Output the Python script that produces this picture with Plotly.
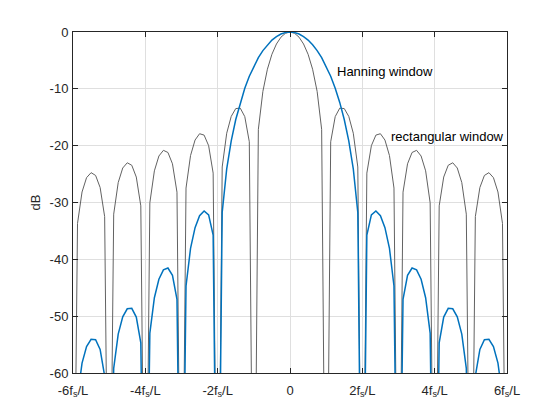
import plotly.graph_objects as go

# frequency axis in units of fs/L
freq = [-6.0, -5.875, -5.75, -5.625, -5.5, -5.375, -5.25, -5.125,
        -5.0, -4.875, -4.75, -4.625, -4.5, -4.375, -4.25, -4.125,
        -4.0, -3.875, -3.75, -3.625, -3.5, -3.375, -3.25, -3.125,
        -3.0, -2.875, -2.75, -2.625, -2.5, -2.375, -2.25, -2.125,
        -2.0, -1.875, -1.75, -1.625, -1.5, -1.375, -1.25, -1.125,
        -1.0, -0.875, -0.75, -0.625, -0.5, -0.375, -0.25, -0.125,
        0.0, 0.125, 0.25, 0.375, 0.5, 0.625, 0.75, 0.875,
        1.0, 1.125, 1.25, 1.375, 1.5, 1.625, 1.75, 1.875,
        2.0, 2.125, 2.25, 2.375, 2.5, 2.625, 2.75, 2.875,
        3.0, 3.125, 3.25, 3.375, 3.5, 3.625, 3.75, 3.875,
        4.0, 4.125, 4.25, 4.375, 4.5, 4.625, 4.75, 4.875,
        5.0, 5.125, 5.25, 5.375, 5.5, 5.625, 5.75, 5.875, 6.0]

# rectangular window response (dB)
rect_db = [-110, -33.67, -28.15, -25.63, -24.75, -25.24, -27.36, -32.48,
           -110, -32.05, -26.49, -23.93, -23.01, -23.45, -25.52, -30.59,
           -110, -30.05, -24.43, -21.82, -20.82, -21.20, -23.19, -28.18,
           -110, -27.46, -21.74, -19.01, -17.90, -18.14, -20.00, -24.83,
           -110, -23.75, -17.81, -14.85, -13.47, -13.40, -14.89, -19.31,
           -110, -17.13, -10.45, -6.55, -3.92, -2.11, -0.91, -0.22,
           0.0, -0.22, -0.91, -2.11, -3.92, -6.55, -10.45, -17.13,
           -110, -19.31, -14.89, -13.40, -13.47, -14.85, -17.81, -23.75,
           -110, -24.83, -20.00, -18.14, -17.90, -19.01, -21.74, -27.46,
           -110, -28.18, -23.19, -21.20, -20.82, -21.82, -24.43, -30.05,
           -110, -30.59, -25.52, -23.45, -23.01, -23.93, -26.49, -32.05,
           -110, -32.48, -27.36, -25.24, -24.75, -25.63, -28.15, -33.67, -110]

# Hanning window response (dB)
hann_db = [-110, -64.17, -58.27, -55.36, -54.07, -54.15, -55.84, -60.53,
           -110, -59.19, -53.16, -50.12, -48.70, -48.62, -50.16, -54.69,
           -110, -52.98, -46.75, -43.50, -41.85, -41.53, -42.80, -47.04,
           -110, -44.68, -38.08, -34.42, -32.31, -31.48, -32.17, -35.75,
           -110, -31.76, -24.10, -19.15, -15.40, -12.39, -9.89, -7.79,
           -6.02, -4.52, -3.27, -2.25, -1.42, -0.80, -0.35, -0.09,
           0.0, -0.09, -0.35, -0.80, -1.42, -2.25, -3.27, -4.52,
           -6.02, -7.79, -9.89, -12.39, -15.40, -19.15, -24.10, -31.76,
           -110, -35.75, -32.17, -31.48, -32.31, -34.42, -38.08, -44.68,
           -110, -47.04, -42.80, -41.53, -41.85, -43.50, -46.75, -52.98,
           -110, -54.69, -50.16, -48.62, -48.70, -50.12, -53.16, -59.19,
           -110, -60.53, -55.84, -54.15, -54.07, -55.36, -58.27, -64.17, -110]

x_tick_vals = [-6, -4, -2, 0, 2, 4, 6]
x_tick_text = ["-6f<sub>s</sub>/L", "-4f<sub>s</sub>/L", "-2f<sub>s</sub>/L", "0",
               "2f<sub>s</sub>/L", "4f<sub>s</sub>/L", "6f<sub>s</sub>/L"]
y_tick_vals = [-60, -50, -40, -30, -20, -10, 0]
y_tick_text = ["-60", "-50", "-40", "-30", "-20", "-10", "0"]

labels = ["Hanning window", "rectangular window"]
label_x = [1.25, 2.73]
label_y = [-7.0, -18.3]

font_family = "Liberation Sans, Arial, sans-serif"

fig = go.Figure()
fig.add_trace(go.Scatter(x=freq, y=rect_db, mode="lines",
                         line=dict(color="#626262", width=1), showlegend=False))
fig.add_trace(go.Scatter(x=freq, y=hann_db, mode="lines",
                         line=dict(color="#0072BD", width=1.5), showlegend=False))

for t, xx, yy in zip(labels, label_x, label_y):
    fig.add_annotation(x=xx, y=yy, text=t, showarrow=False, xanchor="left",
                       yanchor="middle", font=dict(size=13, color="black", family=font_family))

axis_common = dict(showgrid=True, gridcolor="#dfdfdf", gridwidth=1,
                   showline=True, linecolor="#262626", linewidth=1,
                   mirror="ticks", ticks="inside", ticklen=5, tickcolor="#262626",
                   zeroline=False, tickfont=dict(size=13, color="#262626", family=font_family))

fig.update_xaxes(range=[-6, 6], tickmode="array", tickvals=x_tick_vals,
                 ticktext=x_tick_text, ticklabelstandoff=5, **axis_common)
fig.update_yaxes(range=[-60, 0], tickmode="array", tickvals=y_tick_vals,
                 ticktext=y_tick_text, ticklabelstandoff=1,
                 title=dict(text="dB", font=dict(size=13, color="#262626", family=font_family),
                            standoff=6),
                 **axis_common)

fig.update_layout(width=560, height=420, plot_bgcolor="white", paper_bgcolor="white",
                  margin=dict(l=65, r=61, t=24, b=55, autoexpand=False),
                  font=dict(family=font_family))

fig.write_html("out.html")
